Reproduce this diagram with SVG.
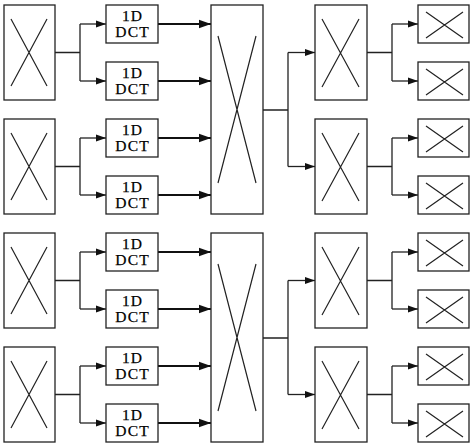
<svg xmlns="http://www.w3.org/2000/svg" width="474" height="448" viewBox="0 0 474 448">
<style>
.box{fill:#fff;stroke:#222;stroke-width:1.3}
.x{stroke:#222;stroke-width:1.2;fill:none}
.c{stroke:#222;stroke-width:1.3;fill:none}
.t{stroke:#111;stroke-width:2.2;fill:none}
.lbl{font-family:"Liberation Serif","Times New Roman",serif;font-size:15.5px;letter-spacing:1.2px;fill:#000;stroke:#000;stroke-width:0.25;text-anchor:middle}
</style>
<defs>
<marker id="a" markerUnits="userSpaceOnUse" markerWidth="10" markerHeight="8" refX="10" refY="4" orient="auto"><path d="M0,0.5 L10,4 L0,7.5 z" fill="#111"/></marker>
<marker id="b" markerUnits="userSpaceOnUse" markerWidth="12" markerHeight="10" refX="12" refY="5" orient="auto"><path d="M0,0.8 L12,5 L0,9.2 z" fill="#111"/></marker>
</defs>
<rect width="474" height="448" fill="#fff"/>
<g id="connectors">
<path class="c" d="M55,52.5 H80 M80,24 V81"/>
<path class="c" d="M80,24 H106" marker-end="url(#a)"/>
<path class="c" d="M80,81 H106" marker-end="url(#a)"/>
<path class="c" d="M55,166.5 H80 M80,138 V195"/>
<path class="c" d="M80,138 H106" marker-end="url(#a)"/>
<path class="c" d="M80,195 H106" marker-end="url(#a)"/>
<path class="c" d="M55,280.5 H80 M80,252 V309"/>
<path class="c" d="M80,252 H106" marker-end="url(#a)"/>
<path class="c" d="M80,309 H106" marker-end="url(#a)"/>
<path class="c" d="M55,394.5 H80 M80,366 V423"/>
<path class="c" d="M80,366 H106" marker-end="url(#a)"/>
<path class="c" d="M80,423 H106" marker-end="url(#a)"/>
<path class="t" d="M158,24 H211" marker-end="url(#b)"/>
<path class="t" d="M158,81 H211" marker-end="url(#b)"/>
<path class="t" d="M158,138 H211" marker-end="url(#b)"/>
<path class="t" d="M158,195 H211" marker-end="url(#b)"/>
<path class="t" d="M158,252 H211" marker-end="url(#b)"/>
<path class="t" d="M158,309 H211" marker-end="url(#b)"/>
<path class="t" d="M158,366 H211" marker-end="url(#b)"/>
<path class="t" d="M158,423 H211" marker-end="url(#b)"/>
<path class="c" d="M263,110 H288 M288,52.5 V166.5"/>
<path class="c" d="M288,52.5 H315" marker-end="url(#a)"/>
<path class="c" d="M288,166.5 H315" marker-end="url(#a)"/>
<path class="c" d="M263,338 H288 M288,280.5 V394.5"/>
<path class="c" d="M288,280.5 H315" marker-end="url(#a)"/>
<path class="c" d="M288,394.5 H315" marker-end="url(#a)"/>
<path class="c" d="M367,52.5 H392 M392,24 V81"/>
<path class="c" d="M392,24 H418" marker-end="url(#a)"/>
<path class="c" d="M392,81 H418" marker-end="url(#a)"/>
<path class="c" d="M367,166.5 H392 M392,138 V195"/>
<path class="c" d="M392,138 H418" marker-end="url(#a)"/>
<path class="c" d="M392,195 H418" marker-end="url(#a)"/>
<path class="c" d="M367,280.5 H392 M392,252 V309"/>
<path class="c" d="M392,252 H418" marker-end="url(#a)"/>
<path class="c" d="M392,309 H418" marker-end="url(#a)"/>
<path class="c" d="M367,394.5 H392 M392,366 V423"/>
<path class="c" d="M392,366 H418" marker-end="url(#a)"/>
<path class="c" d="M392,423 H418" marker-end="url(#a)"/>
</g>
<g id="left1"><rect class="box" x="4" y="5" width="51" height="95"/><path class="x" d="M11,19 L47,86 M47,19 L11,86"/></g>
<g id="left2"><rect class="box" x="4" y="119" width="51" height="95"/><path class="x" d="M11,133 L47,200 M47,133 L11,200"/></g>
<g id="left3"><rect class="box" x="4" y="233" width="51" height="95"/><path class="x" d="M11,247 L47,314 M47,247 L11,314"/></g>
<g id="left4"><rect class="box" x="4" y="347" width="51" height="95"/><path class="x" d="M11,361 L47,428 M47,361 L11,428"/></g>
<g id="dct1"><rect class="box" x="106" y="5" width="52" height="38"/><text class="lbl" x="132.6" y="21">1D</text><text class="lbl" x="132.6" y="37">DCT</text></g>
<g id="dct2"><rect class="box" x="106" y="62" width="52" height="38"/><text class="lbl" x="132.6" y="78">1D</text><text class="lbl" x="132.6" y="94">DCT</text></g>
<g id="dct3"><rect class="box" x="106" y="119" width="52" height="38"/><text class="lbl" x="132.6" y="135">1D</text><text class="lbl" x="132.6" y="151">DCT</text></g>
<g id="dct4"><rect class="box" x="106" y="176" width="52" height="38"/><text class="lbl" x="132.6" y="192">1D</text><text class="lbl" x="132.6" y="208">DCT</text></g>
<g id="dct5"><rect class="box" x="106" y="233" width="52" height="38"/><text class="lbl" x="132.6" y="249">1D</text><text class="lbl" x="132.6" y="265">DCT</text></g>
<g id="dct6"><rect class="box" x="106" y="290" width="52" height="38"/><text class="lbl" x="132.6" y="306">1D</text><text class="lbl" x="132.6" y="322">DCT</text></g>
<g id="dct7"><rect class="box" x="106" y="347" width="52" height="38"/><text class="lbl" x="132.6" y="363">1D</text><text class="lbl" x="132.6" y="379">DCT</text></g>
<g id="dct8"><rect class="box" x="106" y="404" width="52" height="38"/><text class="lbl" x="132.6" y="420">1D</text><text class="lbl" x="132.6" y="436">DCT</text></g>
<g id="big1"><rect class="box" x="211" y="5" width="52" height="209"/><path class="x" d="M218,36 L256,183 M256,36 L218,183"/></g>
<g id="big2"><rect class="box" x="211" y="233" width="52" height="209"/><path class="x" d="M218,264 L256,411 M256,264 L218,411"/></g>
<g id="mid1"><rect class="box" x="315" y="5" width="52" height="95"/><path class="x" d="M322,19 L359,87 M359,19 L322,87"/></g>
<g id="mid2"><rect class="box" x="315" y="119" width="52" height="95"/><path class="x" d="M322,133 L359,201 M359,133 L322,201"/></g>
<g id="mid3"><rect class="box" x="315" y="233" width="52" height="95"/><path class="x" d="M322,247 L359,315 M359,247 L322,315"/></g>
<g id="mid4"><rect class="box" x="315" y="347" width="52" height="95"/><path class="x" d="M322,361 L359,429 M359,361 L322,429"/></g>
<g id="out1"><rect class="box" x="418" y="5" width="51" height="38"/><path class="x" d="M426,12 L463,38 M463,12 L426,38"/></g>
<g id="out2"><rect class="box" x="418" y="62" width="51" height="38"/><path class="x" d="M426,69 L463,95 M463,69 L426,95"/></g>
<g id="out3"><rect class="box" x="418" y="119" width="51" height="38"/><path class="x" d="M426,126 L463,152 M463,126 L426,152"/></g>
<g id="out4"><rect class="box" x="418" y="176" width="51" height="38"/><path class="x" d="M426,183 L463,209 M463,183 L426,209"/></g>
<g id="out5"><rect class="box" x="418" y="233" width="51" height="38"/><path class="x" d="M426,240 L463,266 M463,240 L426,266"/></g>
<g id="out6"><rect class="box" x="418" y="290" width="51" height="38"/><path class="x" d="M426,297 L463,323 M463,297 L426,323"/></g>
<g id="out7"><rect class="box" x="418" y="347" width="51" height="38"/><path class="x" d="M426,354 L463,380 M463,354 L426,380"/></g>
<g id="out8"><rect class="box" x="418" y="404" width="51" height="38"/><path class="x" d="M426,411 L463,437 M463,411 L426,437"/></g>
</svg>
